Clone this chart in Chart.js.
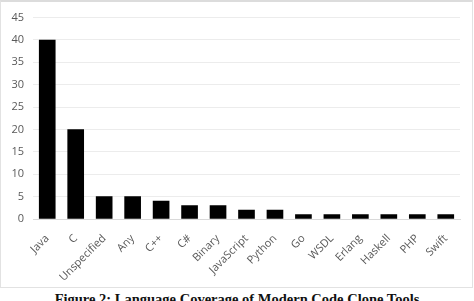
<!DOCTYPE html>
<html>
<head>
<meta charset="utf-8">
<script src="https://cdn.jsdelivr.net/npm/chart.js@4"></script>
<style>
  body { margin: 0; background: #fff; }
  #wrap { position: relative; width: 474px; height: 301px; overflow: hidden; }
  #box { position: absolute; left: 0; top: 0; width: 471px; height: 285px; border: 1px solid #e2e2e2; border-top: 2px solid #dcdcdc; }
  #caption { position: absolute; left: 0; width: 474px; top: 291px; text-align: center;
    font: bold 14.5px "Liberation Serif", "DejaVu Serif", serif; color: #111; white-space: nowrap; }
</style>
</head>
<body>
<div id="wrap">
  <div id="box"><canvas id="myChart" width="471" height="285"></canvas></div>
  <div id="caption">Figure 2: Language Coverage of Modern Code Clone Tools</div>
</div>
<script>
const languages = ['Java', 'C', 'Unspecified', 'Any', 'C++', 'C#', 'Binary', 'JavaScript',
  'Python', 'Go', 'WSDL', 'Erlang', 'Haskell', 'PHP', 'Swift'];
const toolCounts = [40, 20, 5, 5, 4, 3, 3, 2, 2, 1, 1, 1, 1, 1, 1];
const yTicks = [0, 5, 10, 15, 20, 25, 30, 35, 40, 45];

window.addEventListener('load', setup);
function setup() {
  const ctx = document.getElementById('myChart').getContext('2d');
  new Chart(ctx, {
    type: 'bar',
    data: {
      labels: languages,
      datasets: [{
        label: 'Tools',
        data: toolCounts,
        backgroundColor: '#000',
        barThickness: 16
      }]
    },
    options: {
      responsive: false,
      animation: false,
      layout: { padding: { top: 13, right: 12, left: 0, bottom: 0 } },
      plugins: { legend: { display: false }, tooltip: { enabled: false } },
      scales: {
        x: {
          grid: { display: false },
          border: { color: '#d9d9d9' },
          ticks: {
            color: '#595959', minRotation: 45, maxRotation: 45, padding: 5,
            font: { family: 'Open Sans', size: 11 }
          },
          afterFit: s => { s.height = 68; }
        },
        y: {
          min: 0, max: yTicks[yTicks.length - 1],
          grid: { color: '#ececec', drawTicks: false },
          border: { display: false },
          ticks: {
            stepSize: yTicks[1] - yTicks[0], color: '#595959', padding: 9,
            font: { family: 'Open Sans', size: 11 }
          },
          afterFit: s => { s.width = 32; }
        }
      }
    }
  });
}
</script>
</body>
</html>
